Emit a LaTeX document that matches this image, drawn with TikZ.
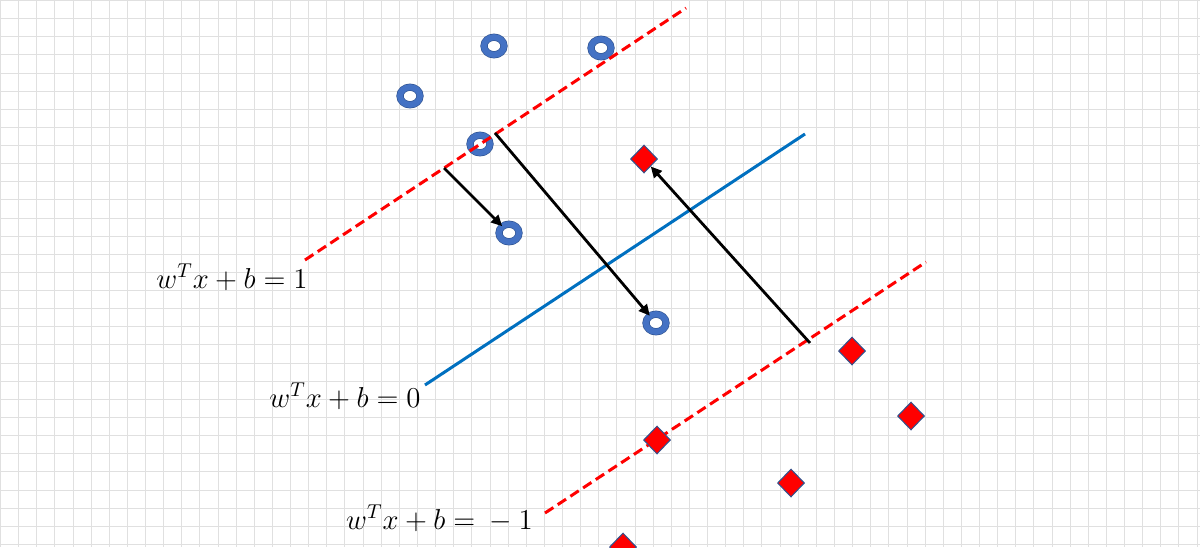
\documentclass[tikz,border=0pt]{standalone}
\usetikzlibrary{arrows.meta,shapes.geometric}
\definecolor{gridgray}{HTML}{E0E0E0}
\definecolor{ringblue}{HTML}{4472C4}
\definecolor{ringedge}{HTML}{2F528F}
\definecolor{sepblue}{HTML}{0070C0}
\tikzset {>={Triangle[length=5.5pt,width=5.2pt]}}
\tikzset{%
  gridline/.style={gridgray,line width=.5pt},
  ring/.style={ellipse,draw=ringedge,line width=.3pt,
    double=ringblue,double distance=3pt,fill=white,
    minimum width=10pt,minimum height=8.8pt,inner sep=0pt},
  dmd/.style={diamond,draw=ringedge,line width=.5pt,fill=red,
    minimum width=13.5pt,minimum height=14pt,inner sep=0pt},
  margin/.style={red,line width=1.5pt,dash pattern=on 5pt off 2.6pt},
  sep/.style={sepblue,line width=1.5pt},
  proj/.style={->,black,line width=1.4pt},
  eqn/.style={anchor=base east,inner sep=0pt,
    font=\fontsize{14.8}{17}\selectfont}}

\begin{document}
\begin{tikzpicture}[x=.5pt,y=-.5pt]
\useasboundingbox (0,0) rectangle (1200,547);
\fill[white] (0,0) rectangle (1200,547);
% grid
\foreach \i in {0,...,66}
  \draw[gridline] (\i*18.13+.5,0) -- (\i*18.13+.5,547);
\foreach \j in {0,...,30}
  \draw[gridline] (0,\j*18.13+.5) -- (1200,\j*18.13+.5);
% positive class
\foreach \n/\x/\y in {1/410/96,2/494/46,3/601/48,4/480/144,5/509/233,6/656/323}
  \node[ring] (c\n) at (\x,\y) {};
% margins and separator
\coordinate (p1) at (305,260);
\coordinate (p2) at (686,8);
\coordinate (z1) at (425,385);
\coordinate (z2) at (805,134);
\coordinate (m1) at (545,513);
\coordinate (m2) at (926,262);
\draw[margin] (p1) -- (p2);
\draw[sep] (z1) -- (z2);
\draw[margin] (m1) -- (m2);
% negative class
\foreach \n/\x/\y in {1/644/159,2/852/351,3/911/416,4/791/483,5/657/440,6/623/547}
  \node[dmd] (d\n) at (\x,\y) {};
% projections
\coordinate (a1) at (444,168);
\coordinate (a2) at (495,133);
\coordinate (a3) at (810,343);
\draw[proj] (a1) -- (c5);
\draw[proj] (a2) -- (c6);
\draw[proj] (a3) -- (d1);
% labels
\node[eqn] (lp) at (308,288) {$w^Tx+b=1$};
\node[eqn] (lz) at (421,407) {$w^Tx+b=0$};
\node[eqn] (lm) at (533,529) {$w^Tx+b={}-1$};
\end{tikzpicture}
\end{document}
